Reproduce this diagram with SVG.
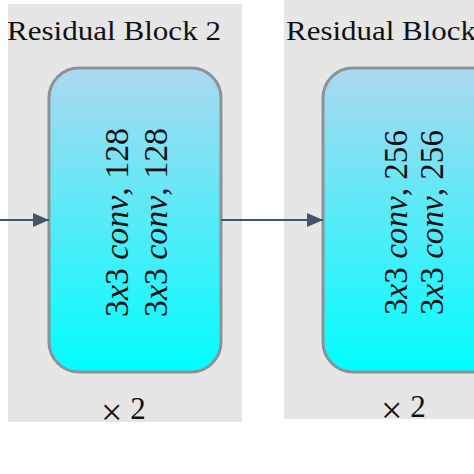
<svg xmlns="http://www.w3.org/2000/svg" width="474" height="474" viewBox="0 0 474 474">
<defs>
<linearGradient id="g" x1="0" y1="0" x2="0" y2="1">
<stop offset="0" stop-color="#acd8f0"/>
<stop offset="1" stop-color="#00fdff"/>
</linearGradient>
<marker id="ah" markerWidth="16" markerHeight="14" refX="16" refY="7" orient="auto" markerUnits="userSpaceOnUse">
<path d="M0,0 L16,7 L0,14 Z" fill="#44546a"/>
</marker>
<style>
.panel{fill:#e6e6e6}
.box{fill:url(#g);stroke:#8e9196;stroke-width:3}
.title{font-family:"Liberation Serif",serif;font-size:28px;fill:#111}
.conv{font-family:"Liberation Serif",serif;font-size:34px;fill:#111}
.it{font-style:italic}
.rep{font-family:"Liberation Serif",serif;font-size:31px;fill:#111}
.x{font-size:38px}
.con{stroke:#44546a;stroke-width:2;fill:none}
</style>
</defs>
<rect width="474" height="474" fill="#ffffff"/>
<g id="block2">
<rect class="panel" x="8" y="4" width="234" height="418"/>
<text class="title" x="7" y="40" textLength="214" lengthAdjust="spacingAndGlyphs">Residual Block 2</text>
<rect class="box" x="49" y="68" width="172" height="304" rx="30" ry="30"/>
<text class="conv" transform="translate(128,317) rotate(-90)" textLength="189" lengthAdjust="spacingAndGlyphs">3<tspan class="it">x</tspan>3 <tspan class="it">conv</tspan>, 128</text>
<text class="conv" transform="translate(167,317) rotate(-90)" textLength="189" lengthAdjust="spacingAndGlyphs">3<tspan class="it">x</tspan>3 <tspan class="it">conv</tspan>, 128</text>
<text class="rep" x="101" y="419"><tspan class="x" dy="6">×</tspan><tspan dy="-6"> 2</tspan></text>
</g>
<g id="block3">
<rect class="panel" x="284" y="0" width="190" height="419"/>
<text class="title" x="286" y="40" textLength="190" lengthAdjust="spacingAndGlyphs">Residual Block</text>
<rect class="box" x="323" y="68" width="190" height="304" rx="30" ry="30"/>
<text class="conv" transform="translate(407,315) rotate(-90)" textLength="185" lengthAdjust="spacingAndGlyphs">3<tspan class="it">x</tspan>3 <tspan class="it">conv</tspan>, 256</text>
<text class="conv" transform="translate(443,315) rotate(-90)" textLength="185" lengthAdjust="spacingAndGlyphs">3<tspan class="it">x</tspan>3 <tspan class="it">conv</tspan>, 256</text>
<text class="rep" x="381" y="417"><tspan class="x" dy="6">×</tspan><tspan dy="-6"> 2</tspan></text>
</g>
<g id="connectors">
<line class="con" x1="0" y1="220" x2="49" y2="220" marker-end="url(#ah)"/>
<line class="con" x1="221" y1="220" x2="323" y2="220" marker-end="url(#ah)"/>
</g>
</svg>
